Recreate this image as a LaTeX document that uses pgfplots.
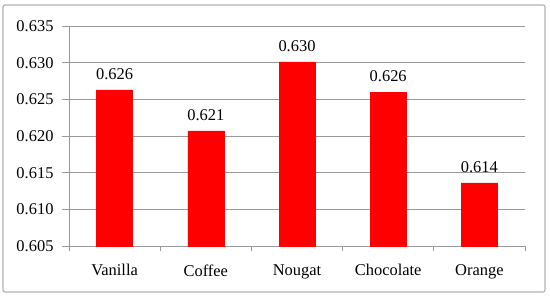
\documentclass[border=0pt]{standalone}
\usepackage{pgfplots}
\pgfplotsset{compat=1.18}
\usepackage{fontspec}
\setmainfont{Liberation Serif}
\begin{document}
\begin{tikzpicture}[x=1bp,y=1bp]
\useasboundingbox (0,0) rectangle (550,297);
\draw[gray!60, line width=1.2bp, rounded corners=2bp] (3,5) rectangle (545,292);
\begin{axis}[
  at={(69bp,51bp)}, anchor=south west,
  scale only axis, width=456bp, height=220bp,
  xmin=-0.5, xmax=4.5, ymin=0.605, ymax=0.635,
  ytick={0.605,0.610,...,0.6351},
  xtick={0,1,2,3,4},
  xticklabels={Vanilla,Coffee,Nougat,Chocolate,Orange},
  minor xtick={-0.5,0.5,1.5,2.5,3.5,4.5},
  major x tick style={draw=none},
  minor tick length=5bp,
  major tick length=7bp,
  tick align=outside,
  tick style={gray!80, line width=0.8bp},
  axis x line*=bottom, axis y line*=left,
  axis line style={gray!80, line width=0.8bp, -},
  ymajorgrids, grid style={gray!80, line width=0.8bp},
  yticklabel style={/pgf/number format/fixed, /pgf/number format/fixed zerofill, /pgf/number format/precision=3, xshift=-5bp},
  /pgf/number format/assume math mode=true,
  ticklabel style={font=\fontsize{16.5}{19}\selectfont},
  xticklabel style={yshift=-8bp},
  ybar, bar width=36bp,
  nodes near coords,
  nodes near coords style={font=\fontsize{16.5}{19}\selectfont, /pgf/number format/fixed, /pgf/number format/fixed zerofill, /pgf/number format/precision=3, /pgf/number format/assume math mode=true, yshift=7bp},
  clip=false,
]
\addplot[fill=red, draw=red] coordinates {(0,0.6263) (1,0.6207) (2,0.6301) (3,0.6260) (4,0.6136)};
\end{axis}
\end{tikzpicture}
\end{document}
